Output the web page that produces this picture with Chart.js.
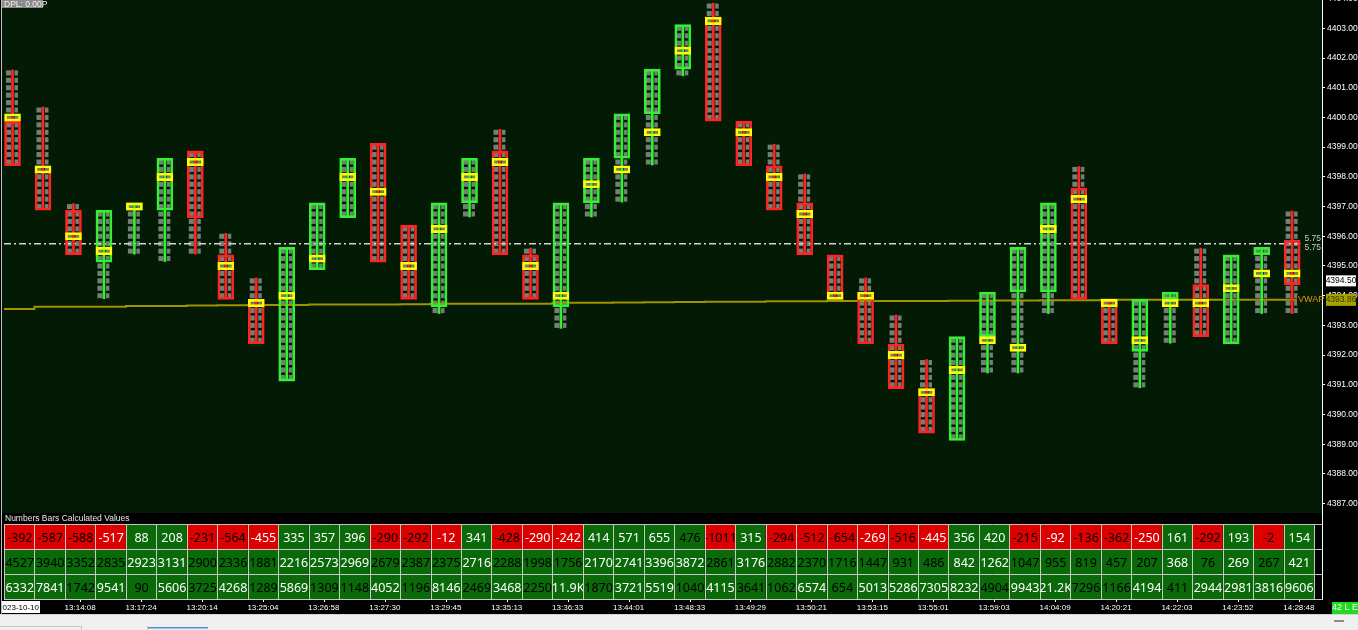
<!DOCTYPE html>
<html><head><meta charset="utf-8">
<script src="https://cdn.jsdelivr.net/npm/chart.js@4.4.1/dist/chart.umd.min.js"></script>
<style>html,body{margin:0;padding:0;background:#000;overflow:hidden}canvas{display:block}</style>
</head><body>
<canvas id="c" width="1358" height="630"></canvas>
<script>
// ---------- DATA ----------
const timeLabels = ['2023-10-10','', '13:14:08','', '13:17:24','', '13:20:14','', '13:25:04','', '13:26:58','',
  '13:27:30','', '13:29:45','', '13:35:13','', '13:36:33','', '13:44:01','', '13:48:33','', '13:49:29','',
  '13:50:21','', '13:53:15','', '13:55:01','', '13:59:03','', '14:04:09','', '14:20:21','', '14:22:03','',
  '14:23:52','', '14:28:48'];
const highs  = [4401.5,4400.25,4397.0,4396.75,4397.0,4398.5,4398.75,4396.0,4394.5,4395.5,4397.0,4398.5,4399.0,4396.25,4397.0,4398.5,4399.5,4395.5,4397.0,4398.5,4400.0,4401.5,4403.0,4403.75,4399.75,4399.0,4398.0,4395.25,4394.5,4393.25,4391.75,4392.5,4394.0,4395.5,4397.0,4398.25,4393.75,4393.75,4394.0,4395.5,4395.25,4395.5,4396.75];
const lows   = [4398.5,4397.0,4395.5,4394.0,4395.5,4395.25,4395.5,4394.0,4392.5,4391.25,4395.0,4396.75,4395.25,4394.0,4393.5,4396.75,4395.5,4394.0,4393.0,4396.75,4397.25,4398.5,4401.5,4400.0,4398.5,4397.0,4395.5,4394.0,4392.5,4391.0,4389.5,4389.25,4391.5,4391.5,4393.5,4394.0,4392.5,4391.0,4392.5,4392.75,4392.5,4393.5,4393.5];
const opens  = [4399.75,4398.25,4396.75,4395.25,4397.0,4397.0,4398.75,4395.25,4393.75,4391.25,4395.0,4396.75,4399.0,4396.25,4393.75,4397.25,4398.75,4395.25,4393.75,4397.25,4398.75,4400.25,4401.75,4403.25,4399.75,4398.25,4397.0,4395.25,4394.0,4392.25,4390.75,4389.25,4392.75,4394.25,4394.25,4397.5,4393.75,4392.25,4394.0,4394.25,4392.5,4395.5,4395.75];
const closes = [4398.5,4397.0,4395.5,4396.75,4397.0,4398.5,4396.75,4394.0,4392.5,4395.5,4397.0,4398.5,4395.25,4394.0,4397.0,4398.5,4395.5,4394.0,4397.0,4398.5,4400.0,4401.5,4403.0,4400.0,4398.5,4397.0,4395.5,4394.0,4392.5,4391.0,4389.5,4392.5,4394.0,4395.5,4397.0,4394.0,4392.5,4393.75,4394.0,4392.75,4395.25,4395.5,4394.5];
const pocs   = [4400.0,4398.25,4396.0,4395.5,4397.0,4398.0,4398.5,4395.0,4393.75,4394.0,4395.25,4398.0,4397.5,4395.0,4396.25,4398.0,4398.5,4395.0,4394.0,4397.75,4398.25,4399.5,4402.25,4403.25,4399.5,4398.0,4396.75,4394.0,4394.0,4392.0,4390.75,4391.5,4392.5,4392.25,4396.25,4397.25,4393.75,4392.5,4393.75,4393.75,4394.25,4394.75,4394.75];
const vwap   = [4393.55,4393.55,4393.63,4393.63,4393.63,4393.65,4393.65,4393.67,4393.68,4393.69,4393.69,4393.70,4393.70,4393.70,4393.71,4393.73,4393.73,4393.73,4393.73,4393.76,4393.76,4393.77,4393.78,4393.79,4393.80,4393.80,4393.81,4393.81,4393.82,4393.82,4393.82,4393.82,4393.83,4393.84,4393.84,4393.85,4393.85,4393.86,4393.86,4393.86,4393.86,4393.86,4393.86];
const deltaValues  = [-392,-587,-588,-517,88,208,-231,-564,-455,335,357,396,-290,-292,-12,341,-428,-290,-242,414,571,655,476,-1011,315,-294,-512,-654,-269,-516,-445,356,420,-215,-92,-136,-362,-250,161,-292,193,-2,154];
const volumeValues = [4527,3940,3352,2835,2923,3131,2900,2336,1881,2216,2573,2969,2679,2387,2375,2716,2288,1998,1756,2170,2741,3396,3872,2861,3176,2882,2370,1716,1447,931,486,842,1262,1047,955,819,457,207,368,76,269,267,421];
const thirdValues  = [6332,7841,1742,9541,90,5606,3725,4268,1289,5869,1309,1148,4052,1196,8146,2469,3468,2250,11900,1870,3721,5519,1040,4115,3641,1062,6574,654,5013,5286,7305,8232,4904,9943,21200,7296,1166,4194,411,2944,2981,3816,9606];
const refPrice = 4395.75;
const lastPrice = 4394.50;
const vwapLast = 4393.86;

// ---------- STYLE / GEOMETRY ----------
const N = highs.length;
const X_MAX = 43.26, Y_MIN = 4386.686, Y_MAX = 4403.953, STEP = 0.25, OFF = 0.28;
const RED = '#ff2323', GREEN = '#33f033', BG = '#031a05';
const firstColDark = [true, true, false];
const up = i => closes[i] >= opens[i];
const fmt = v => Math.abs(v) >= 10000 ? (v/1000).toFixed(1) + 'K' : String(v);

const wickData = highs.map((h,i)=>({x:i+OFF, y:[lows[i]-0.1, h+0.1]}));
const bodyData = opens.map((o,i)=>({x:i+OFF, y:[Math.min(o,closes[i])-STEP/2, Math.max(o,closes[i])+STEP/2]}));
const pocData  = pocs.map((p,i)=>({x:i+OFF, y:[p-STEP/2, p+STEP/2]}));
const vwapData = vwap.map((v,i)=>({x:i, y:v})); vwapData.push({x:42.5, y:vwap[N-1]});
const refData  = [{x:0, y:refPrice},{x:42.55, y:refPrice}];

const bgPlugin = {
  id:'bg',
  beforeDraw(chart){
    const {ctx, chartArea:a} = chart;
    ctx.save();
    ctx.fillStyle = '#000'; ctx.fillRect(0,0,chart.width,chart.height);
    ctx.fillStyle = BG; ctx.fillRect(2, a.top, a.right-2, a.bottom-a.top);
    ctx.restore();
  },
  beforeDatasetsDraw(chart){
    const {ctx, scales:{x:xs, y:ys}, chartArea:a} = chart;
    ctx.save();
    ctx.beginPath(); ctx.rect(a.left, a.top, a.right-a.left, a.bottom-a.top); ctx.clip();
    ctx.fillStyle = 'rgba(220,220,220,0.52)';
    for (let i=0;i<N;i++){
      const l = xs.getPixelForValue(i);
      for (let r=lows[i]; r<=highs[i]+1e-6; r+=STEP){
        const y = ys.getPixelForValue(r);
        ctx.fillRect(l+2, y-2.5, 5, 5);
        ctx.fillRect(l+10.5, y-2.5, 3.5, 5);
      }
    }
    ctx.restore();
  },
  afterDraw(chart){
    const {ctx, scales:{x:xs, y:ys}, chartArea:a} = chart;
    ctx.save();
    // partially visible top tick label
    ctx.font = '8.5px "Liberation Sans"'; ctx.textAlign='left'; ctx.textBaseline='middle';
    ctx.fillStyle = '#fff';
    ctx.fillText((4404).toFixed(2), a.right+5, ys.getPixelForValue(4404));
    // reference line labels
    ctx.textAlign='right';
    ctx.fillStyle = '#c8c8c8';
    const yr = ys.getPixelForValue(refPrice);
    ctx.fillText('5.75', a.right-1, yr-5);
    ctx.fillText('5.75', a.right-1, yr+4);
    // VWAP label
    const yv = ys.getPixelForValue(vwapLast);
    ctx.fillStyle = '#151500'; ctx.fillRect(a.right-25, yv-5, 25, 10);
    ctx.fillStyle = '#b8a51e'; ctx.font='9px "Liberation Sans"'; ctx.textAlign='left';
    ctx.fillText('VWAP', a.right-24, yv);
    // axis price boxes
    const yl = ys.getPixelForValue(lastPrice);
    ctx.fillStyle = '#fff'; ctx.fillRect(a.right+4, yl-5.5, 30, 11);
    ctx.fillStyle = '#000'; ctx.font='8.5px "Liberation Sans"'; ctx.textAlign='center';
    ctx.fillText(lastPrice.toFixed(2), a.right+19, yl);
    ctx.fillStyle = '#a6a200'; ctx.fillRect(a.right+4, yv-6, 30, 12);
    ctx.fillStyle = '#33330a'; ctx.fillText(vwapLast.toFixed(2), a.right+19, yv);
    // DPL box
    ctx.fillStyle = '#8a8a8a'; ctx.fillRect(2,0,41,8);
    ctx.fillStyle = '#eeeeee'; ctx.textAlign='left'; ctx.textBaseline='alphabetic';
    ctx.font = '8.5px "Liberation Sans"'; ctx.fillText('DPL: 0.00P', 4, 7);

    // bottom panel
    const T = a.bottom;
    ctx.fillStyle = '#000'; ctx.fillRect(0, T, a.right, 630-T);
    ctx.fillStyle = '#e6e6e6'; ctx.font = '8.5px "Liberation Sans"'; ctx.textBaseline='middle';
    ctx.fillText('Numbers Bars Calculated Values', 5, T+6);
    const rows = [deltaValues, volumeValues, thirdValues];
    const rowTop = [525, 550, 575], RH = 25;
    ctx.font = '12.5px "Noto Sans"'; ctx.textAlign='center';
    rows.forEach((vals, r) => {
      vals.forEach((v,i) => {
        const x0 = xs.getPixelForValue(i), x1 = xs.getPixelForValue(i+1);
        ctx.fillStyle = (r===0 && v<0) ? '#dc0000' : '#0a6a0a';
        ctx.fillRect(x0, rowTop[r], x1-x0, RH);
        const dark = i===0 ? firstColDark[r] : !(v > vals[i-1]);
        ctx.fillStyle = dark ? '#000' : '#fff';
        ctx.fillText(fmt(v), (x0+x1)/2 + 0.5, rowTop[r]+RH/2+0.5);
      });
    });
    ctx.strokeStyle = 'rgba(215,215,215,0.9)'; ctx.lineWidth = 1;
    ctx.beginPath();
    for (let i=0;i<=N;i++){ const x = Math.round(xs.getPixelForValue(i))+0.5; ctx.moveTo(x,525); ctx.lineTo(x,600); }
    [525,550,575,600].forEach(y=>{ ctx.moveTo(4,y-0.5); ctx.lineTo(a.right,y-0.5); });
    ctx.stroke();
    // axis border continuation
    ctx.fillStyle='#fff'; ctx.fillRect(a.right, T, 1, 600-T);
    // time axis
    ctx.fillStyle='#000'; ctx.fillRect(0,600,1358,14);
    ctx.font = '8px "Liberation Sans"'; ctx.textAlign='center'; ctx.fillStyle='#fff';
    timeLabels.forEach((t,i)=>{
      if (!t || i===0) return;
      const xc = xs.getPixelForValue(i+0.5);
      ctx.fillRect(Math.round(xc), 600, 1, 2);
      ctx.fillText(t, xc, 607.5);
    });
    // date box
    ctx.fillStyle='#fff'; ctx.fillRect(2,601,38,12);
    ctx.save(); ctx.beginPath(); ctx.rect(2,601,38,12); ctx.clip();
    ctx.fillStyle='#000'; ctx.textAlign='right'; ctx.fillText(timeLabels[0], 39, 607.5);
    ctx.restore();
    // status box
    ctx.fillStyle='#1fdc1f'; ctx.fillRect(1332,602,26,12);
    ctx.fillStyle='#fff'; ctx.font='9px "Liberation Sans"'; ctx.textAlign='center';
    ctx.fillText('42 L E', 1345, 608);
    // window chrome
    ctx.fillStyle='#f0f0f0'; ctx.fillRect(0,614,1358,16);
    ctx.fillStyle='#d4d4d4'; ctx.fillRect(0,614,1358,1);
    ctx.fillStyle='#c8c8c8'; ctx.fillRect(0,626,81,1); ctx.fillRect(81,626,1,4); ctx.fillRect(147,626,1,4);
    ctx.fillStyle='#4a8fd8'; ctx.fillRect(148,627,60,1.5);
    ctx.fillStyle='#8c8c8c'; ctx.fillRect(1334,620,10,2);
    // left border line
    ctx.fillStyle='#bdbdbd'; ctx.fillRect(1,0,1,614);
    ctx.restore();
  }
};

new Chart(document.getElementById('c'), {
  type:'bar',
  data:{ datasets:[
    {type:'line', data:vwapData, borderColor:'#a09200', borderWidth:2, stepped:'after', pointRadius:0, order:6},
    {type:'line', data:refData, borderColor:'#d4d4d4', borderWidth:1.5, borderDash:[7,3,2,3], pointRadius:0, order:5},
    {type:'bar', data:wickData, backgroundColor:highs.map((_,i)=>up(i)?GREEN:RED), borderWidth:0, barThickness:2, grouped:false, order:4},
    {type:'bar', data:bodyData, backgroundColor:'rgba(0,0,0,0)', borderColor:highs.map((_,i)=>up(i)?GREEN:RED), borderWidth:2, borderSkipped:false, barThickness:16, grouped:false, order:3},
    {type:'bar', data:pocData, backgroundColor:'rgba(0,0,0,0)', borderColor:'#ffff00', borderWidth:2, borderSkipped:false, barThickness:16, grouped:false, order:2}
  ]},
  options:{
    responsive:false, animation:false, devicePixelRatio:1,
    layout:{padding:{left:4, right:0, top:0, bottom:117}},
    plugins:{legend:{display:false}, tooltip:{enabled:false}},
    scales:{
      x:{type:'linear', min:0, max:X_MAX, offset:false, display:false},
      y:{position:'right', min:Y_MIN, max:Y_MAX,
         afterFit(s){ s.width = 36; s.paddingTop = 0; s.paddingBottom = 0; },
         ticks:{stepSize:1, includeBounds:false, autoSkip:false, color:'#ffffff', padding:2,
                font:{family:'Liberation Sans', size:8.5}, callback:v=>Number(v).toFixed(2)},
         grid:{drawOnChartArea:false, drawTicks:true, tickLength:3, color:'#ffffff'},
         border:{color:'#ffffff', width:1}}
    }
  },
  plugins:[bgPlugin]
});
</script>
</body></html>
